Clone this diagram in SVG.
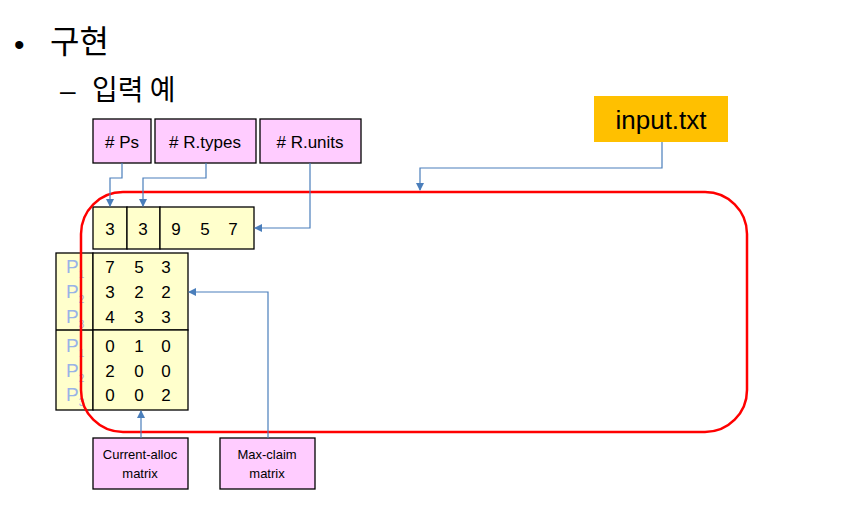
<svg xmlns="http://www.w3.org/2000/svg" width="841" height="513" viewBox="0 0 841 513">
<defs>
<marker id="ah" markerWidth="8" markerHeight="8" refX="7" refY="4" orient="auto" markerUnits="userSpaceOnUse"><path d="M0,0 L8,4 L0,8 z" fill="#4a7ebb"/></marker>
<style>
.lbl{fill:#ffccff;stroke:#000;stroke-width:1.3}
.cell{fill:#ffffcc;stroke:#000;stroke-width:1.3}
.t{font-family:"Liberation Sans",Arial,sans-serif;fill:#000}
.p{font-family:"Liberation Sans",Arial,sans-serif;fill:#99b3e6;font-size:19px}
.s{font-family:"Liberation Sans",Arial,sans-serif;font-size:10px;fill:#99b3e6}
.c{fill:none;stroke:#4a7ebb;stroke-width:1.2;marker-end:url(#ah)}
.k{font-family:"Noto Sans CJK KR","Liberation Sans",sans-serif;fill:#000}
</style>
</defs>
<rect width="841" height="513" fill="#fff"/>
<text class="t" x="14" y="55" font-size="30">•</text>
<text class="k" x="50" y="53" font-size="32">구현</text>
<text class="t" x="60" y="100" font-size="28">–</text>
<text class="k" x="92" y="100" font-size="28">입력 예</text>

<g id="input"><rect x="594" y="96" width="134" height="46" fill="#ffc000"/><text class="t" x="661" y="129" font-size="26" text-anchor="middle">input.txt</text></g>
<g id="ps"><rect class="lbl" x="93" y="119" width="58" height="44"/><text class="t" x="122" y="148" font-size="17" text-anchor="middle"># Ps</text></g>
<g id="rtypes"><rect class="lbl" x="155" y="119" width="101" height="44"/><text class="t" x="205" y="148" font-size="17" text-anchor="middle"># R.types</text></g>
<g id="runits"><rect class="lbl" x="260" y="119" width="101" height="44"/><text class="t" x="310" y="148" font-size="17" text-anchor="middle"># R.units</text></g>

<g id="toprow">
<rect class="cell" x="93" y="207" width="34" height="42"/><rect class="cell" x="127" y="207" width="33" height="42"/><rect class="cell" x="160" y="207" width="94" height="42"/>
<text class="t" x="110" y="235" font-size="17" text-anchor="middle">3</text>
<text class="t" x="143" y="235" font-size="17" text-anchor="middle">3</text>
<text class="t" x="176" y="235" font-size="17" text-anchor="middle">9</text>
<text class="t" x="205" y="235" font-size="17" text-anchor="middle">5</text>
<text class="t" x="233" y="235" font-size="17" text-anchor="middle">7</text>
</g>
<g id="pcol">
<rect class="cell" x="56" y="253" width="37" height="157"/>
<line x1="56" y1="330" x2="93" y2="330" stroke="#000" stroke-width="1.3"/>
<text class="p" x="66" y="273">P<tspan class="s" dy="5">1</tspan></text>
<text class="p" x="66" y="298">P<tspan class="s" dy="5">2</tspan></text>
<text class="p" x="66" y="323">P<tspan class="s" dy="5">3</tspan></text>
<text class="p" x="66" y="352">P<tspan class="s" dy="5">1</tspan></text>
<text class="p" x="66" y="377">P<tspan class="s" dy="5">2</tspan></text>
<text class="p" x="66" y="401">P<tspan class="s" dy="5">3</tspan></text>
</g>
<g id="matrix" font-size="17">
<rect class="cell" x="93" y="253" width="95" height="77"/>
<rect class="cell" x="93" y="330" width="95" height="80"/>
<g class="t" text-anchor="middle" font-size="17">
<text x="110" y="273">7</text><text x="139" y="273">5</text><text x="166" y="273">3</text>
<text x="110" y="298">3</text><text x="139" y="298">2</text><text x="166" y="298">2</text>
<text x="110" y="323">4</text><text x="139" y="323">3</text><text x="166" y="323">3</text>
<text x="110" y="352">0</text><text x="139" y="352">1</text><text x="166" y="352">0</text>
<text x="110" y="377">2</text><text x="139" y="377">0</text><text x="166" y="377">0</text>
<text x="110" y="401">0</text><text x="139" y="401">0</text><text x="166" y="401">2</text>
</g>
</g>
<g id="frame"><rect x="81" y="192" width="666" height="240" rx="42" fill="none" stroke="#ff0000" stroke-width="2.5"/></g>

<g id="cur"><rect class="lbl" x="93" y="438" width="95" height="51"/><text class="t" x="140" y="459" font-size="13" text-anchor="middle">Current-alloc</text><text class="t" x="140" y="478" font-size="13" text-anchor="middle">matrix</text></g>
<g id="max"><rect class="lbl" x="220" y="438" width="95" height="51"/><text class="t" x="267" y="459" font-size="13" text-anchor="middle">Max-claim</text><text class="t" x="267" y="478" font-size="13" text-anchor="middle">matrix</text></g>

<g id="connectors">
<polyline class="c" points="122,163 122,178 110,178 110,206"/>
<polyline class="c" points="206,163 206,178 143,178 143,206"/>
<polyline class="c" points="310,163 310,228 255,228"/>
<polyline class="c" points="268,438 268,292 189,292"/>
<polyline class="c" points="141,438 141,411"/>
<polyline class="c" points="662,142 662,168 420,168 420,190"/>
</g>
</svg>
